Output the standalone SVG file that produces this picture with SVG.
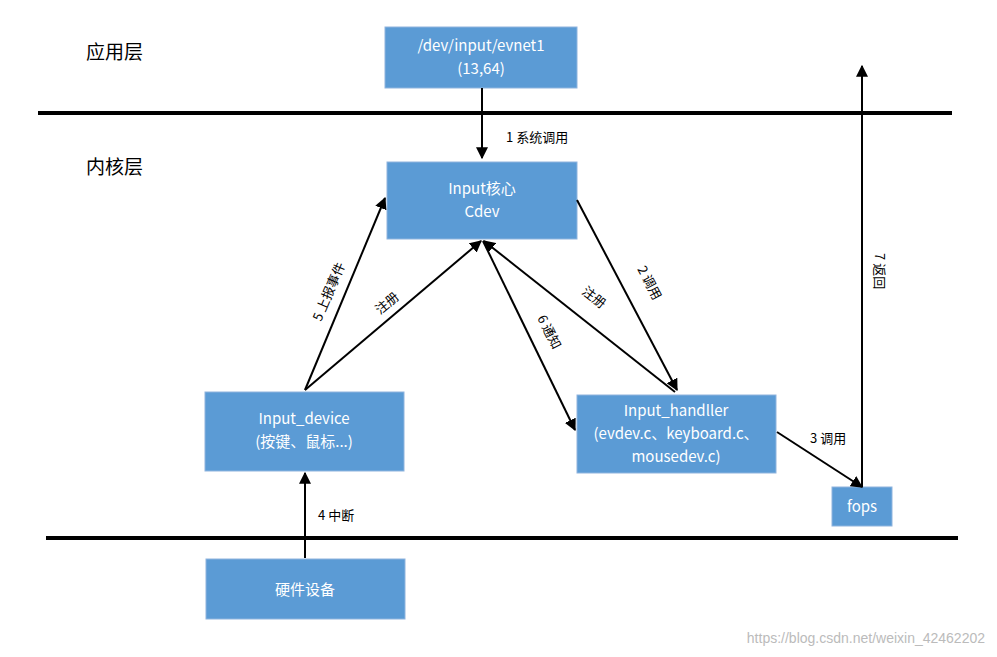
<svg xmlns="http://www.w3.org/2000/svg" width="997" height="657" viewBox="0 0 997 657">
<style>
.b{fill:#5b9bd5;stroke:#8fb4de;stroke-width:1}
.t{font-family:"Microsoft YaHei","Noto Sans CJK SC",sans-serif;font-size:15px;fill:#fff;text-anchor:middle}
.l{font-family:"Noto Sans CJK SC",sans-serif;font-size:13px;fill:#000}
.h{font-family:"Noto Sans CJK SC",sans-serif;font-size:19px;fill:#000}
.c{stroke:#000;stroke-width:2;fill:none;marker-end:url(#a)}
</style>
<defs><marker id="a" viewBox="0 0 10 10" refX="9" refY="5" markerWidth="6" markerHeight="6" orient="auto" markerUnits="strokeWidth"><path d="M0,0L10,5L0,10z" fill="#000"/></marker></defs>
<rect width="997" height="657" fill="#fff"/>
<line x1="38" y1="113" x2="952" y2="113" stroke="#000" stroke-width="4"/>
<line x1="46" y1="538" x2="958" y2="538" stroke="#000" stroke-width="4"/>
<text class="h" x="86" y="59">应用层</text>
<text class="h" x="86" y="174">内核层</text>
<g id="n1"><rect class="b" x="385" y="27" width="192" height="61"/><text class="t" x="481" y="51">/dev/input/evnet1</text><text class="t" x="481" y="74">(13,64)</text></g>
<g id="n2"><rect class="b" x="387" y="162" width="190" height="77"/><text class="t" x="482" y="194">Input核心</text><text class="t" x="482" y="217">Cdev</text></g>
<g id="n3"><rect class="b" x="205" y="392" width="199" height="79"/><text class="t" x="304" y="424">Input_device</text><text class="t" x="304" y="447">(按键、鼠标...)</text></g>
<g id="n4"><rect class="b" x="577" y="395" width="199" height="78"/><text class="t" x="676" y="416">Input_handller</text><text class="t" x="676" y="439">(evdev.c、keyboard.c、</text><text class="t" x="676" y="462">mousedev.c)</text></g>
<g id="n5"><rect class="b" x="832" y="487" width="60" height="39"/><text class="t" x="862" y="512">fops</text></g>
<g id="n6"><rect class="b" x="206" y="559" width="199" height="60"/><text class="t" x="305" y="595">硬件设备</text></g>
<g id="edges">
<line class="c" x1="482" y1="88" x2="482" y2="158"/>
<line class="c" x1="577" y1="200" x2="677" y2="390"/>
<line class="c" x1="777" y1="432" x2="862" y2="487"/>
<line class="c" x1="305" y1="558" x2="305" y2="473"/>
<line class="c" x1="305" y1="390" x2="385" y2="198"/>
<line class="c" x1="305" y1="390" x2="481" y2="241"/>
<line class="c" x1="675" y1="392" x2="484" y2="241"/>
<line class="c" x1="483" y1="241" x2="575" y2="430"/>
<line class="c" x1="862" y1="487" x2="862" y2="66"/>
</g>
<text class="l" x="506" y="142">1 系统调用</text>
<text class="l" x="810" y="443">3 调用</text>
<text class="l" x="318" y="520">4 中断</text>
<text class="l" transform="translate(321,322) rotate(-67)">5 上报事件</text>
<text class="l" transform="translate(380,315) rotate(-40)">注册</text>
<text class="l" transform="translate(581,293) rotate(38)">注册</text>
<text class="l" transform="translate(637,269) rotate(62)">2 调用</text>
<text class="l" transform="translate(537,318) rotate(63)">6 通知</text>
<text class="l" transform="translate(875,253) rotate(90)">7 返回</text>
<text x="985" y="643" font-family="Liberation Sans,sans-serif" font-size="14" fill="#bbb" text-anchor="end">https://blog.csdn.net/weixin_42462202</text>
</svg>
